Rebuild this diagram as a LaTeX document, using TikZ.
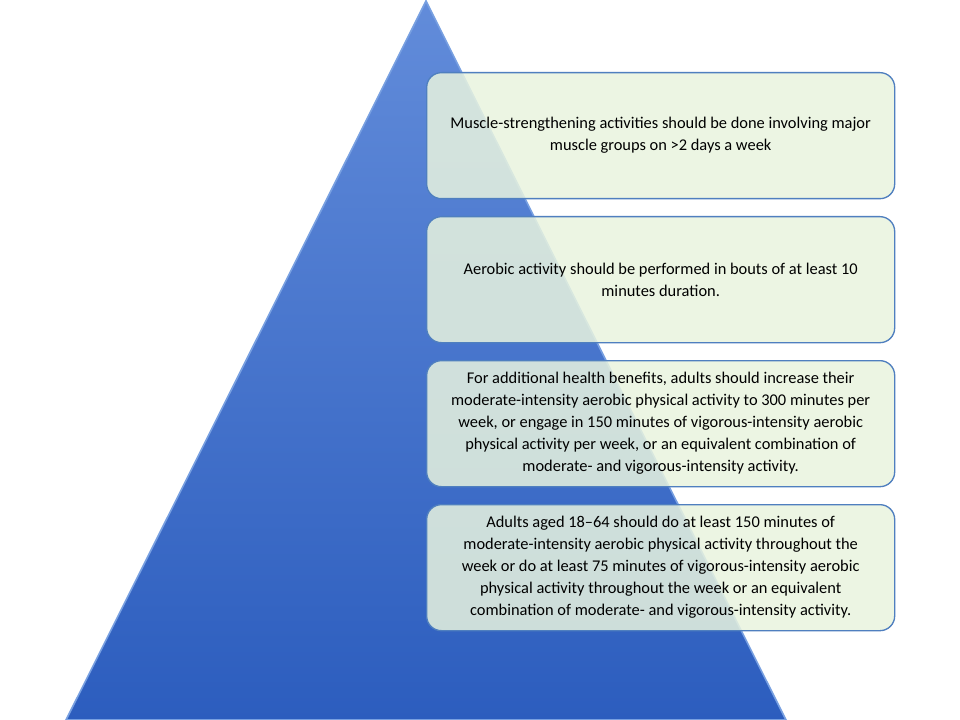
\documentclass[tikz,border=0pt]{standalone}
\usepackage{fontspec}
\setmainfont{Carlito}
\begin{document}
\begin{tikzpicture}[x=0.75pt,y=-0.75pt,
  box/.style={draw=boxborder,line width=1pt,rounded corners=11pt,fill=boxfill,fill opacity=0.85,text opacity=1,
    minimum width=468*0.75pt,minimum height=126*0.75pt,align=center,
    font=\fontsize{12.3}{16.5}\selectfont,anchor=north west,inner sep=0pt}]
\definecolor{boxfill}{HTML}{E9F4DF}
\definecolor{boxborder}{HTML}{4F7FBF}
\definecolor{tritop}{HTML}{628CDA}
\definecolor{tribot}{HTML}{2C5DBE}
\useasboundingbox (0,0) rectangle (960,720);
\fill[white] (0,0) rectangle (960,720);
\shade[top color=tritop, bottom color=tribot, draw={rgb,255:red,120;green,160;blue,225}, line width=1.2pt]
  (426,1) -- (786,720) -- (66,720) -- cycle;
\node[box] (b1) at (426,72) {Muscle-strengthening activities should be done involving major\\ muscle groups on >2 days a week};
\node[box] (b2) at (426,216) {Aerobic activity should be performed in bouts of at least 10\\ minutes duration.};
\node[box] (b3) at (426,360) {For additional health benefits, adults should increase their\\ moderate-intensity aerobic physical activity to 300 minutes per\\ week, or engage in 150 minutes of vigorous-intensity aerobic\\ physical activity per week, or an equivalent combination of\\ moderate- and vigorous-intensity activity.};
\node[box] (b4) at (426,504) {Adults aged 18–64 should do at least 150 minutes of\\ moderate-intensity aerobic physical activity throughout the\\ week or do at least 75 minutes of vigorous-intensity aerobic\\ physical activity throughout the week or an equivalent\\ combination of moderate- and vigorous-intensity activity.};
\end{tikzpicture}
\end{document}
